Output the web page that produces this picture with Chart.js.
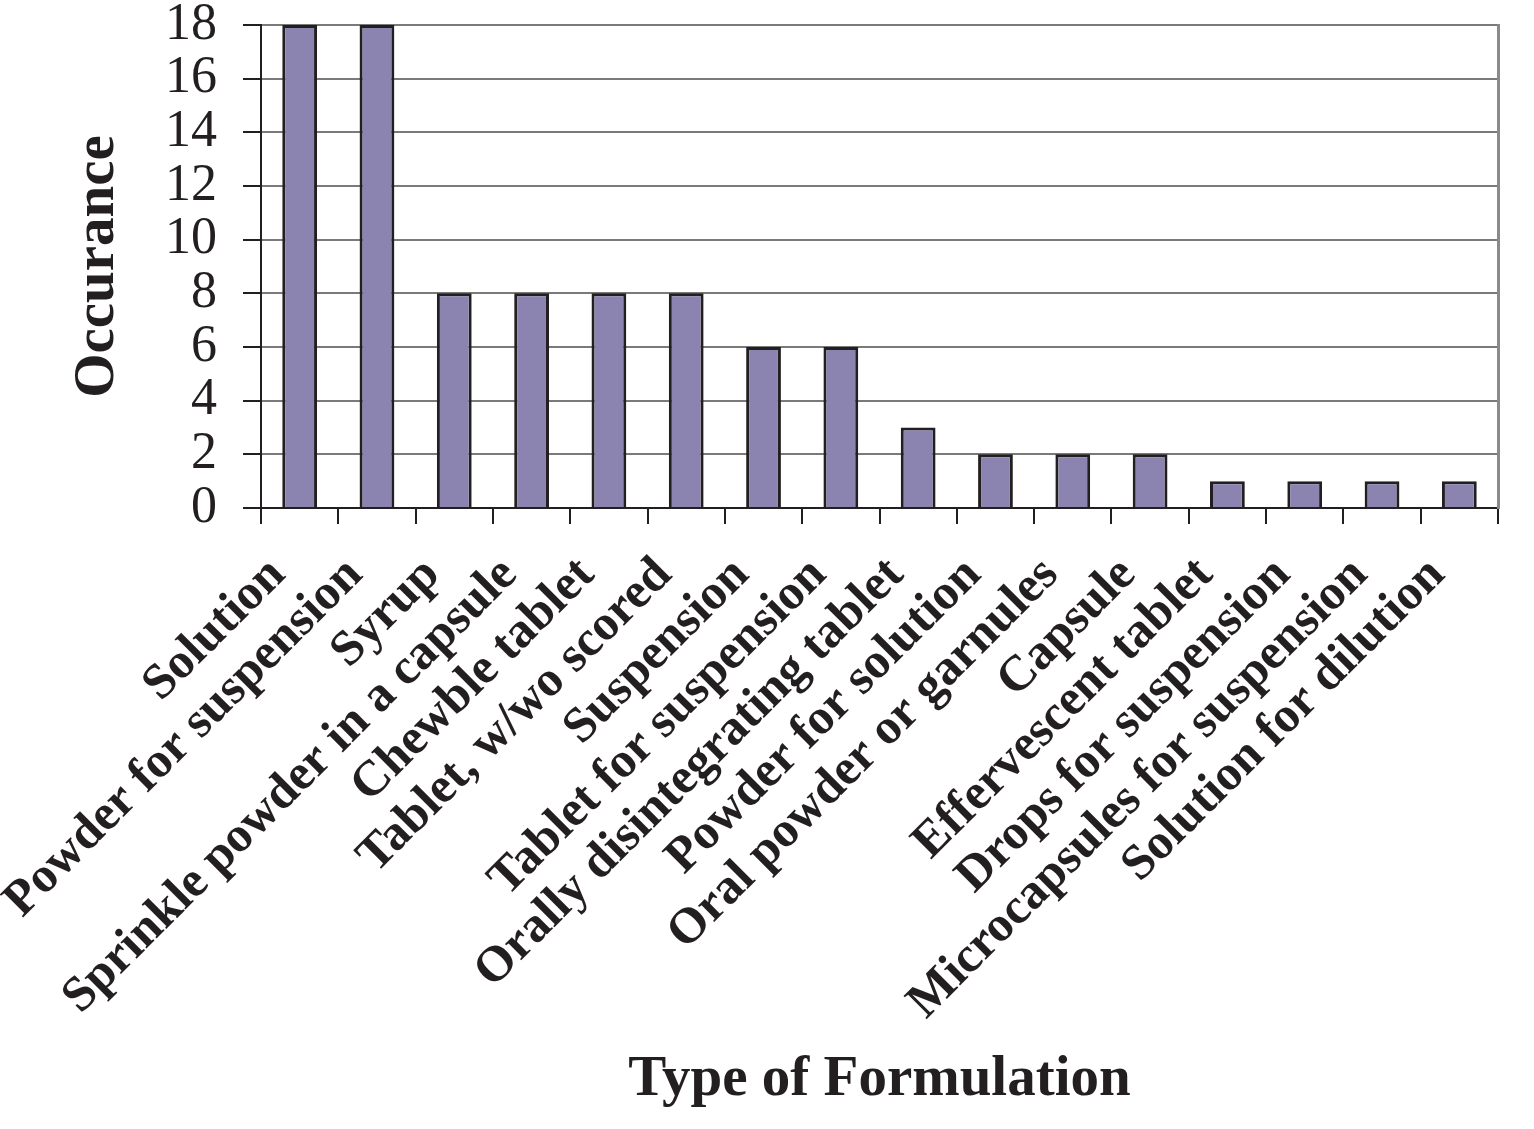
<!DOCTYPE html>
<html>
<head>
<meta charset="utf-8">
<script src="https://cdn.jsdelivr.net/npm/chart.js@4/dist/chart.umd.min.js"></script>
<style>
html,body{margin:0;padding:0;background:#fff;}
#wrap{width:1534px;height:1129px;position:relative;}
</style>
</head>
<body>
<div id="wrap"><canvas id="c"></canvas></div>
<script>
const categories = [
  "Solution",
  "Powder for suspension",
  "Syrup",
  "Sprinkle powder in a capsule",
  "Chewble tablet",
  "Tablet, w/wo scored",
  "Suspension",
  "Tablet for suspension",
  "Orally disintegrating tablet",
  "Powder for solution",
  "Oral powder or garnules",
  "Capsule",
  "Effervescent tablet",
  "Drops for suspension",
  "Microcapsules for suspension",
  "Solution for dilution"
];
const occurrences = [18, 18, 8, 8, 8, 8, 6, 6, 3, 2, 2, 2, 1, 1, 1, 1];
const yMin = 0, yMax = 18, yStep = 2;
const xTitle = "Type of Formulation";
const yTitle = "Occurance";

const serif = "'Liberation Serif', 'Times New Roman', serif";
const ink = "#231f20";

new Chart(document.getElementById('c'), {
  type: 'bar',
  data: {
    labels: categories,
    datasets: [{
      data: occurrences,
      backgroundColor: '#8b84b0',
      borderColor: ink,
      borderWidth: 3,
      barPercentage: 0.45,
      categoryPercentage: 1.0
    }]
  },
  options: {
    responsive: true,
    maintainAspectRatio: false,
    animation: false,
    devicePixelRatio: 1,
    layout: { padding: { top: 25, left: 0, right: 0, bottom: 0 } },
    plugins: { legend: { display: false }, tooltip: { enabled: false } },
    scales: {
      x: {
        grid: { drawOnChartArea: false, drawTicks: true, tickLength: 16, color: ink, lineWidth: 2, offset: true },
        border: { color: ink, width: 2 },
        ticks: {
          autoSkip: false, maxRotation: 45, minRotation: 45,
          color: ink, padding: 22, labelOffset: -22,
          font: { family: serif, size: 50, weight: 'bold' }
        },
        title: {
          display: true, text: xTitle, color: ink,
          font: { family: serif, size: 57, weight: 'bold' },
          padding: { top: 0, bottom: 15 }
        },
        afterFit: (s) => { s.height = 1129 - 508; s.paddingLeft = 0; s.paddingRight = 0; }
      },
      y: {
        min: yMin, max: yMax,
        grid: { color: '#7a7a7a', lineWidth: 2, tickLength: 18, tickColor: ink },
        border: { color: ink, width: 2 },
        ticks: {
          stepSize: yStep, autoSkip: false, color: ink, padding: 26,
          font: { family: serif, size: 52 }
        },
        title: {
          display: true, text: yTitle, color: ink,
          font: { family: serif, size: 57, weight: 'bold' },
          padding: { top: 64, bottom: 0 }
        },
        afterFit: (s) => { s.width = 261; s.paddingTop = 0; s.paddingBottom = 0; }
      },
      y2: {
        position: 'right', min: yMin, max: yMax,
        grid: { drawOnChartArea: false, drawTicks: false },
        border: { color: '#8a8a8a', width: 3 },
        ticks: { display: false },
        afterFit: (s) => { s.width = 1534 - 1498; s.paddingTop = 0; s.paddingBottom = 0; }
      }
    }
  }
});
</script>
</body>
</html>
